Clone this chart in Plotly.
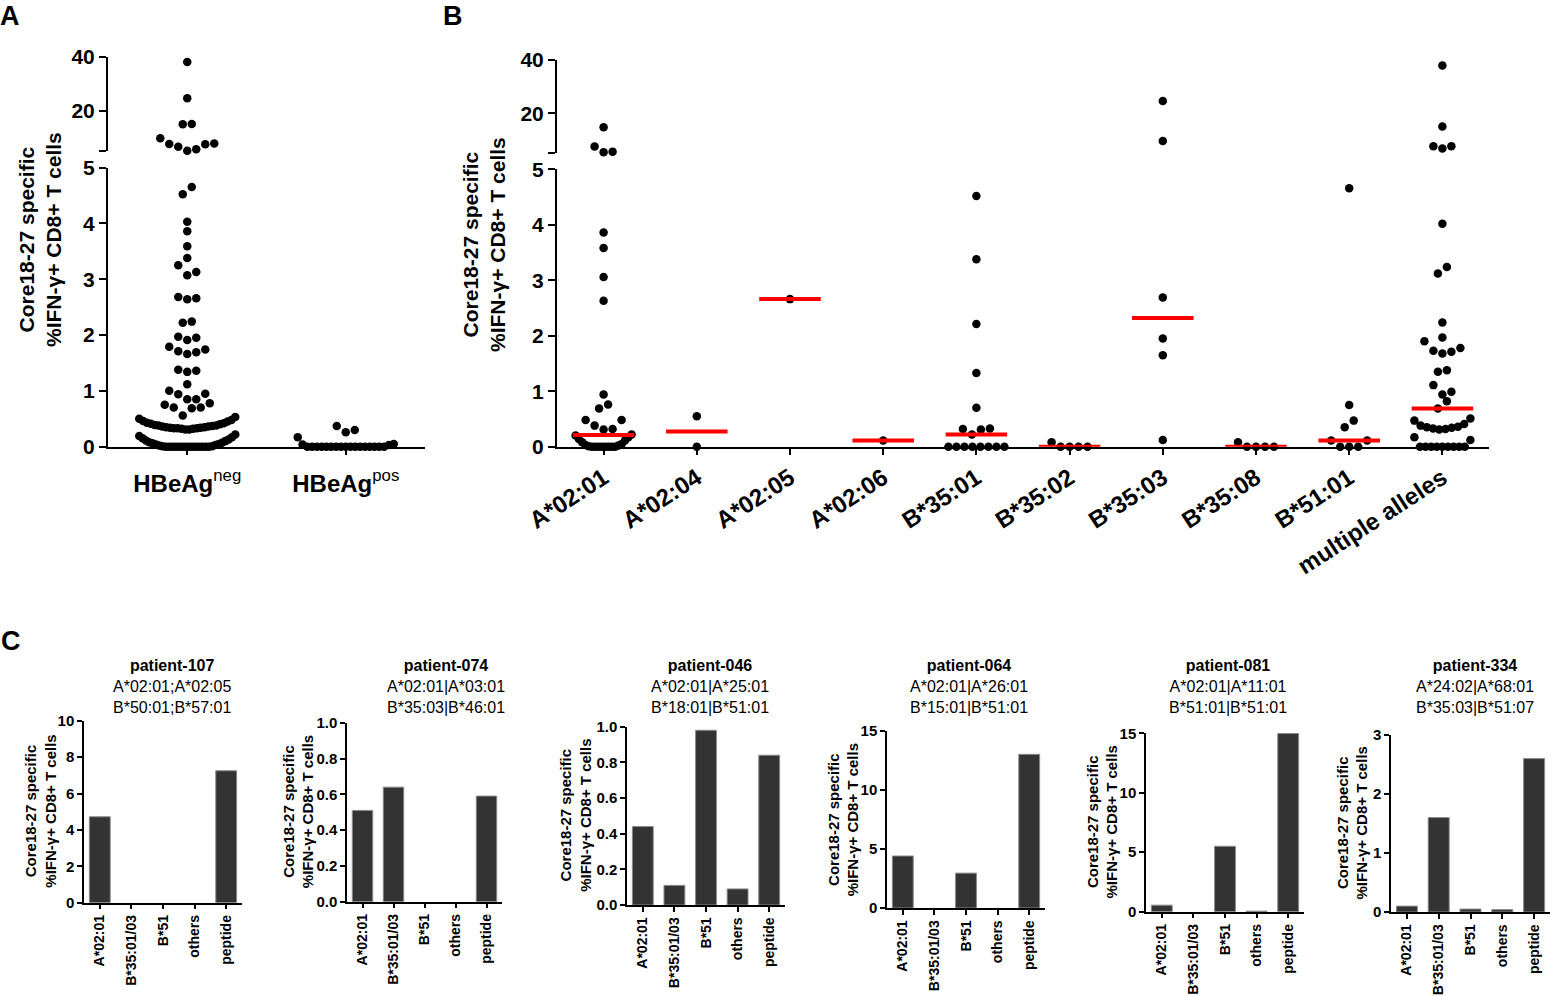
import numpy as np
import plotly.graph_objects as go

# ---------------- data ----------------
# panel A: HBeAg status
a_categories = ["<b>HBeAg</b><sup>neg</sup>", "<b>HBeAg</b><sup>pos</sup>"]
hbeag_neg = [38.0, 24.6, 15.1, 15.0, 9.8, 7.9, 7.65, 7.6, 6.7, 5.7, 5.2,
             4.65, 4.52, 4.03, 3.86, 3.59, 3.38, 3.25, 3.13, 3.07, 2.68, 2.66, 2.64,
             2.24, 2.22, 1.97, 1.95, 1.91, 1.79, 1.74, 1.71, 1.69, 1.66, 1.38, 1.36, 1.34,
             1.12, 1.0, 0.95, 0.94, 0.85, 0.85, 0.78, 0.75, 0.70, 0.70, 0.69, 0.56,
             0.53, 0.50, 0.48, 0.46, 0.45, 0.43, 0.42, 0.41, 0.40, 0.39, 0.38, 0.38, 0.37,
             0.36, 0.36, 0.35, 0.35, 0.34, 0.34, 0.33, 0.33, 0.33, 0.32, 0.32, 0.31, 0.31,
             0.22, 0.19, 0.17, 0.15, 0.13, 0.11, 0.10, 0.08, 0.07, 0.06, 0.05, 0.04, 0.03,
             0.02, 0.01, 0.01, 0, 0, 0, 0, 0, 0, 0, 0, 0, 0, 0, 0, 0, 0]
hbeag_pos = [0.37, 0.30, 0.26, 0.17, 0.05, 0.04, 0.03,
             0, 0, 0, 0, 0, 0, 0, 0, 0, 0, 0, 0, 0, 0, 0, 0, 0]

# panel B: HLA alleles
b_categories = ["A*02:01", "A*02:04", "A*02:05", "A*02:06", "B*35:01", "B*35:02",
                "B*35:03", "B*35:08", "B*51:01", "multiple alleles"]
b_a0201 = [14.75, 7.5, 5.6, 5.4, 3.86, 3.58, 3.06, 2.63, 0.94, 0.76, 0.69, 0.48, 0.48,
           0.38, 0.32, 0.31, 0.22, 0.20, 0.17, 0.14, 0.11, 0.08, 0.05, 0.03, 0.02, 0.01,
           0, 0, 0, 0, 0, 0, 0, 0]
b_a0204 = [0.55, 0.0]
b_a0205 = [2.66]
b_a0206 = [0.11]
b_b3501 = [4.52, 3.38, 2.21, 1.33, 0.70, 0.33, 0.32, 0.31, 0.22, 0, 0, 0, 0, 0, 0, 0, 0]
b_b3502 = [0.08, 0, 0, 0, 0]
b_b3503 = [24.6, 9.6, 2.69, 1.95, 1.65, 0.12]
b_b3508 = [0.08, 0, 0, 0, 0]
b_b5101 = [4.66, 0.75, 0.47, 0.35, 0.11, 0.11, 0, 0, 0]
b_multi = [37.9, 15.0, 7.6, 7.6, 6.75, 4.02, 3.24, 3.12, 2.24, 1.97, 1.90, 1.78, 1.73,
           1.71, 1.68, 1.38, 1.35, 1.11, 0.99, 0.94, 0.82, 0.69,
           0.51, 0.47, 0.41, 0.38, 0.36, 0.35, 0.34, 0.33, 0.32, 0.31,
           0.17, 0.12, 0, 0, 0, 0, 0, 0, 0, 0, 0]
b_values = [b_a0201, b_a0204, b_a0205, b_a0206, b_b3501, b_b3502,
            b_b3503, b_b3508, b_b5101, b_multi]

# panel C: single patients
c_categories = ["A*02:01", "B*35:01/03", "B*51", "others", "peptide"]
c_patients = ["patient-107", "patient-074", "patient-046", "patient-064", "patient-081", "patient-334"]
c_hla_a = ["A*02:01;A*02:05", "A*02:01|A*03:01", "A*02:01|A*25:01",
           "A*02:01|A*26:01", "A*02:01|A*11:01", "A*24:02|A*68:01"]
c_hla_b = ["B*50:01;B*57:01", "B*35:03|B*46:01", "B*18:01|B*51:01",
           "B*15:01|B*51:01", "B*51:01|B*51:01", "B*35:03|B*51:07"]
c_p107 = [4.72, 0, 0, 0, 7.25]
c_p074 = [0.51, 0.64, 0, 0, 0.59]
c_p046 = [0.44, 0.11, 0.98, 0.09, 0.84]
c_p064 = [4.4, 0, 2.95, 0, 13.0]
c_p081 = [0.55, 0, 5.5, 0.05, 15.0]
c_p334 = [0.10, 1.6, 0.05, 0.04, 2.6]
c_values = [c_p107, c_p074, c_p046, c_p064, c_p081, c_p334]
c_yranges = [10, 1.0, 1.0, 15, 15, 3]
c_dticks = [2, 0.2, 0.2, 5, 5, 1]

y_title = "Core18-27 specific<br>%IFN-γ+ CD8+ T cells"

# ---------------- geometry (pixels) ----------------
W, H = 1552, 996
FONT = "Liberation Sans, Arial, sans-serif"
UP0 = 5.2  # bottom of the upper (broken) segment


def dx(a, b):
    return [a / W, b / W]


def dy(top, bottom):
    return [1 - bottom / H, 1 - top / H]


A_X, A_LOW, A_UP = (108, 425), (167.5, 446.7), (56.7, 150.7)
B_X, B_LOW, B_UP = (557, 1489), (169.3, 446.7), (60.0, 152.7)
C_X = [(84, 242), (347, 502), (627, 785), (887, 1045), (1146, 1304), (1391, 1550)]
C_Y = [(720.7, 902.7), (722.7, 901.7), (726.7, 905), (730.7, 908), (733.3, 911.7), (735, 912)]
C_TITLE_X = [172, 446, 710, 969, 1228, 1475]
C_YTITLE_X = [41, 298, 576, 843, 1102, 1352]


def swarm(values, low, up, slot=9.0, d=8.5, span=13.0, half_max=48.0):
    """GraphPad-like scatter: rows of close values, spread centre-out (pixel offsets)."""
    ppu_low = (low[1] - low[0]) / 5.0
    ppu_up = (up[1] - up[0]) / (40 - UP0)
    gap = low[0] - up[1]

    def to_px(v):
        return v * ppu_low if v <= 5 else 5 * ppu_low + gap + (v - UP0) * ppu_up

    groups = []
    for v in sorted(values):
        p = to_px(v)
        if groups and p - groups[-1][-1][1] < d and p - groups[-1][0][1] <= span:
            groups[-1].append((v, p))
        else:
            groups.append([(v, p)])
    offs, ys = [], []
    for g in groups:
        n = len(g)
        step = slot if n < 2 or (n - 1) * slot / 2 <= half_max else 2 * half_max / (n - 1)
        for i, (v, p) in enumerate(g):
            if n % 2:
                k = ((i + 1) // 2) * (1 if i % 2 else -1)
            else:
                k = (i // 2 + 0.5) * (-1 if i % 2 == 0 else 1)
            offs.append(k * step)
            ys.append(v)
    return np.array(offs), np.array(ys)


fig = go.Figure()


def add_dots(vals, i, xname, ylow, yup, low, up, ppx, half_max):
    offs, ys = swarm(vals, low, up, half_max=half_max)
    xs = i + offs / ppx
    lo = ys <= 5
    for mask, yname in ((lo, ylow), (~lo, yup)):
        if mask.any():
            fig.add_trace(go.Scatter(x=xs[mask], y=ys[mask], mode="markers", xaxis=xname, yaxis=yname,
                                     marker=dict(color="black", size=8.5, line=dict(width=0)),
                                     cliponaxis=False, hoverinfo="y"))


# panel A
ppx_a = (A_X[1] - A_X[0]) / 2.0
for i, vals in enumerate([hbeag_neg, hbeag_pos]):
    add_dots(vals, i, "x", "y", "y2", A_LOW, A_UP, ppx_a, 48)

# panel B
ppx_b = (B_X[1] - B_X[0]) / 10.0
for i, vals in enumerate(b_values):
    add_dots(vals, i, "x2", "y3", "y4", B_LOW, B_UP, ppx_b, 28)
for i, vals in enumerate(b_values):
    m = float(np.median(vals))
    fig.add_trace(go.Scatter(x=[i - 0.33, i + 0.33], y=[m, m], mode="lines", xaxis="x2",
                             yaxis="y3" if m <= 5 else "y4", cliponaxis=False,
                             line=dict(color="#ff0000", width=4), hoverinfo="y"))

# panel C
for k, vals in enumerate(c_values):
    fig.add_trace(go.Bar(x=c_categories, y=vals, xaxis=f"x{k + 3}", yaxis=f"y{k + 5}",
                         marker=dict(color="#333333",
                                     line=dict(color="#8a8a8a", width=[1 if v > 0 else 0 for v in vals])),
                         width=0.66))

# ---------------- layout ----------------
base = dict(showline=True, linecolor="black", showgrid=False, zeroline=False,
            ticks="outside", tickcolor="black", automargin=False)
big = dict(base, linewidth=2, tickwidth=2, ticklen=7,
           tickfont=dict(family=FONT, size=21, color="black", weight="bold"))
small = dict(base, linewidth=1.5, tickwidth=1.5, ticklen=5,
             tickfont=dict(family=FONT, size=15, color="black", weight="bold"))
brk = dict(minor=dict(tickvals=[UP0], ticks="outside", ticklen=7, tickwidth=2, tickcolor="black",
                      showgrid=False))

layout = dict(
    width=W, height=H, margin=dict(l=0, r=0, t=0, b=0, autoexpand=False),
    paper_bgcolor="white", plot_bgcolor="white", showlegend=False,
    font=dict(family=FONT, color="black"),
    xaxis=dict(big, domain=dx(*A_X), range=[-0.5, 1.5], anchor="y", tickvals=[0, 1],
               ticktext=a_categories, ticklen=6, ticklabelstandoff=8,
               tickfont=dict(family=FONT, size=24, color="black")),
    yaxis=dict(big, domain=dy(*A_LOW), range=[0, 5], anchor="x", tickvals=[0, 1, 2, 3, 4, 5]),
    yaxis2=dict(big, **brk, domain=dy(*A_UP), range=[UP0, 40], anchor="x", tickvals=[20, 40]),
    xaxis2=dict(big, domain=dx(*B_X), range=[-0.5, 9.5], anchor="y3",
                tickvals=list(range(10)), ticktext=b_categories, tickangle=-33, ticklen=6,
                tickfont=dict(family=FONT, size=24, color="black", weight="bold")),
    yaxis3=dict(big, domain=dy(*B_LOW), range=[0, 5], anchor="x2", tickvals=[0, 1, 2, 3, 4, 5]),
    yaxis4=dict(big, **brk, domain=dy(*B_UP), range=[UP0, 40], anchor="x2", tickvals=[20, 40]),
)
for k in range(6):
    top = c_yranges[k]
    layout[f"xaxis{k + 3}"] = dict(small, domain=dx(*C_X[k]), anchor=f"y{k + 5}",
                                   range=[-0.5, 4.5], tickangle=-90, type="category",
                                   tickfont=dict(family=FONT, size=14, color="black", weight="bold"))
    layout[f"yaxis{k + 5}"] = dict(small, domain=dy(*C_Y[k]), anchor=f"x{k + 3}",
                                   range=[0, top], dtick=c_dticks[k],
                                   tickformat=".1f" if top == 1.0 else "d")

annotations = []
for txt, x, y in (("A", 10, 16), ("B", 453, 16), ("C", 11, 641)):
    annotations.append(dict(text=f"<b>{txt}</b>", x=x / W, y=1 - y / H, xref="paper", yref="paper",
                            showarrow=False, font=dict(size=27, family=FONT), xanchor="center",
                            yanchor="middle"))
for x, y in ((40, 240), (484, 245)):
    annotations.append(dict(text=f"<b>{y_title}</b>", x=x / W, y=1 - y / H, xref="paper",
                            yref="paper", showarrow=False, textangle=-90,
                            font=dict(size=21, family=FONT), xanchor="center", yanchor="middle"))
for k in range(6):
    annotations.append(dict(text=f"<b>{c_patients[k]}</b><br>{c_hla_a[k]}<br>{c_hla_b[k]}",
                            x=C_TITLE_X[k] / W, y=1 - 686 / H, xref="paper", yref="paper",
                            showarrow=False, font=dict(size=16, family=FONT),
                            xanchor="center", yanchor="middle"))
    yc = (C_Y[k][0] + C_Y[k][1]) / 2
    annotations.append(dict(text=f"<b>{y_title}</b>", x=C_YTITLE_X[k] / W, y=1 - yc / H,
                            xref="paper", yref="paper", showarrow=False, textangle=-90,
                            font=dict(size=15, family=FONT), xanchor="center", yanchor="middle"))
layout["annotations"] = annotations

fig.update_layout(**layout)
fig.write_html("out.html", config={"displayModeBar": False},
               post_script="document.body.style.margin='0';")
